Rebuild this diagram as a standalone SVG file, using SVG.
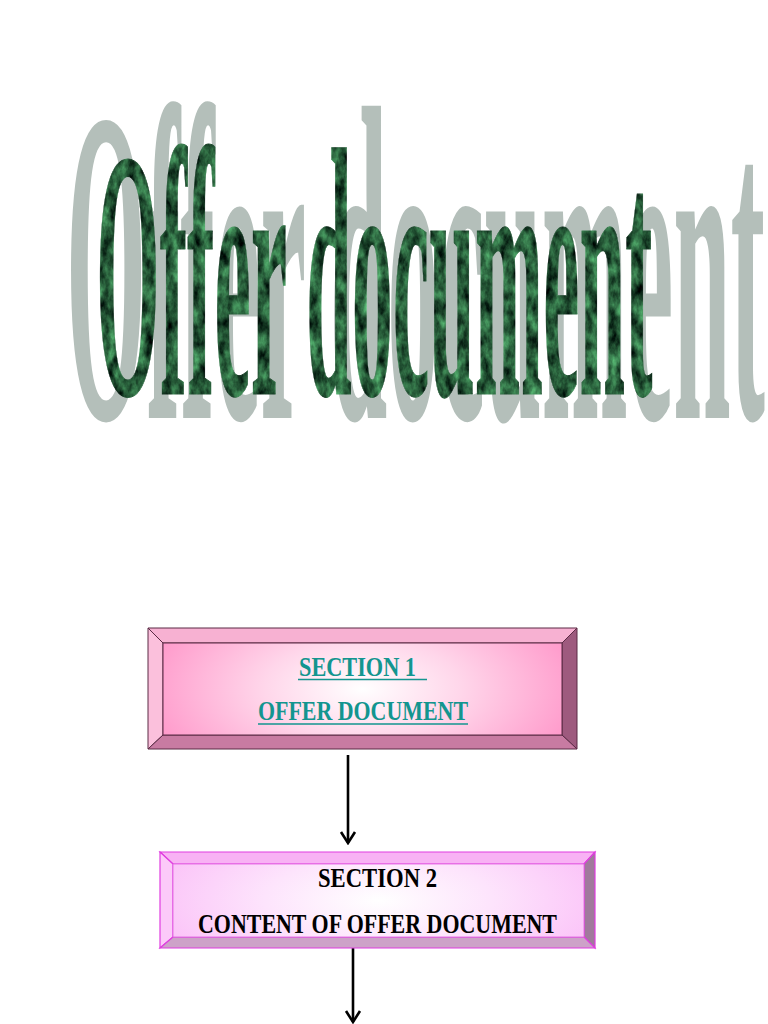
<svg xmlns="http://www.w3.org/2000/svg" width="768" height="1024" viewBox="0 0 768 1024">
  <defs>
    <style>
      .title { font-family: "Liberation Serif", "Times New Roman", serif; font-weight: bold; font-size: 100px; }
      .lbl { font-family: "Liberation Serif", "Times New Roman", serif; font-weight: bold; font-size: 27px; }
      .teal { fill: #13958f; }
      .blk { fill: #000000; }
      .ul { stroke: #13958f; stroke-width: 1.6; }
      .edge1 { stroke: #5a2a44; stroke-width: 1; }
      .edge2 { stroke: #e03ce0; stroke-width: 1.2; }
      .conn { stroke: #000000; stroke-width: 2.6; fill: none; }
    </style>
    <filter id="marble" x="-5%" y="-5%" width="110%" height="110%" color-interpolation-filters="sRGB">
      <feTurbulence type="fractalNoise" baseFrequency="0.11 0.06" numOctaves="4" seed="7" result="n"/>
      <feColorMatrix in="n" type="matrix" values="0.5 0 0 0 -0.1  0.95 0 0 0 -0.12  0.6 0 0 0 -0.08  0 0 0 0 1" result="c"/>
      <feComposite in="c" in2="SourceGraphic" operator="in" result="t"/>
    </filter>
    <radialGradient id="g1" cx="0.5" cy="0.5" r="0.55" gradientTransform="translate(0.5 0.5) scale(1 2.2) translate(-0.5 -0.5)">
      <stop offset="0" stop-color="#ffffff"/>
      <stop offset="0.45" stop-color="#ffd6ea"/>
      <stop offset="1" stop-color="#ff9acb"/>
    </radialGradient>
    <radialGradient id="g2" cx="0.5" cy="0.5" r="0.55" gradientTransform="translate(0.5 0.5) scale(1 2.2) translate(-0.5 -0.5)">
      <stop offset="0" stop-color="#ffffff"/>
      <stop offset="0.5" stop-color="#fde4fc"/>
      <stop offset="1" stop-color="#fbc4f8"/>
    </radialGradient>
    <marker id="arrow" viewBox="-13 -9 15 18" refX="0" refY="0" markerWidth="15" markerHeight="18" markerUnits="userSpaceOnUse" orient="auto">
      <path d="M-11,-7 L0,0 L-11,7" fill="none" stroke="#000" stroke-width="2.6"/>
    </marker>
  </defs>

  <rect width="768" height="1024" fill="#ffffff"/>

  <g id="title">
    <text class="title" fill="#b4bfba" transform="translate(66,418) scale(1.03,4.5)">Offer document</text>
    <g filter="url(#marble)">
      <text class="title" fill="#1d5a32" stroke="#1d5a32" stroke-width="0.3" transform="translate(96,394) scale(0.82,3.55)">Offer document</text>
    </g>
  </g>

  <g id="connectors">
    <line class="conn" x1="348" y1="755" x2="348" y2="843" marker-end="url(#arrow)"/>
    <line class="conn" x1="353" y1="943" x2="353" y2="1022" marker-end="url(#arrow)"/>
  </g>

  <g id="section1">
    <polygon points="148,628 577,628 562,643 163,643" fill="#f7b1d2" class="edge1"/>
    <polygon points="148,628 163,643 163,735 148,749" fill="#fbc0dc" class="edge1"/>
    <polygon points="577,628 577,749 562,735 562,643" fill="#9e5a7e" class="edge1"/>
    <polygon points="148,749 163,735 562,735 577,749" fill="#c87ba2" class="edge1"/>
    <rect x="163" y="643" width="399" height="92" fill="url(#g1)" class="edge1"/>
    <text class="lbl teal" x="299" y="676" textLength="117" lengthAdjust="spacingAndGlyphs">SECTION 1</text>
    <line class="ul" x1="298" y1="679.5" x2="427" y2="679.5"/>
    <text class="lbl teal" x="258" y="720" textLength="210" lengthAdjust="spacingAndGlyphs">OFFER DOCUMENT</text>
    <line class="ul" x1="258" y1="724" x2="468" y2="724"/>
  </g>

  <g id="section2">
    <polygon points="160,852 595,852 584,864 173,864" fill="#f8b2f4" class="edge2"/>
    <polygon points="160,852 173,864 173,937 160,948" fill="#fccaf9" class="edge2"/>
    <polygon points="595,852 595,948 584,937 584,864" fill="#a07a9c" class="edge2"/>
    <polygon points="160,948 173,937 584,937 595,948" fill="#cda2c8" class="edge2"/>
    <rect x="173" y="864" width="411" height="73" fill="url(#g2)" stroke="#e060e0" stroke-width="0.8"/>
    <text class="lbl blk" x="318" y="887" textLength="119" lengthAdjust="spacingAndGlyphs">SECTION 2</text>
    <text class="lbl blk" x="198" y="933" textLength="359" lengthAdjust="spacingAndGlyphs">CONTENT OF OFFER DOCUMENT</text>
  </g>
</svg>
